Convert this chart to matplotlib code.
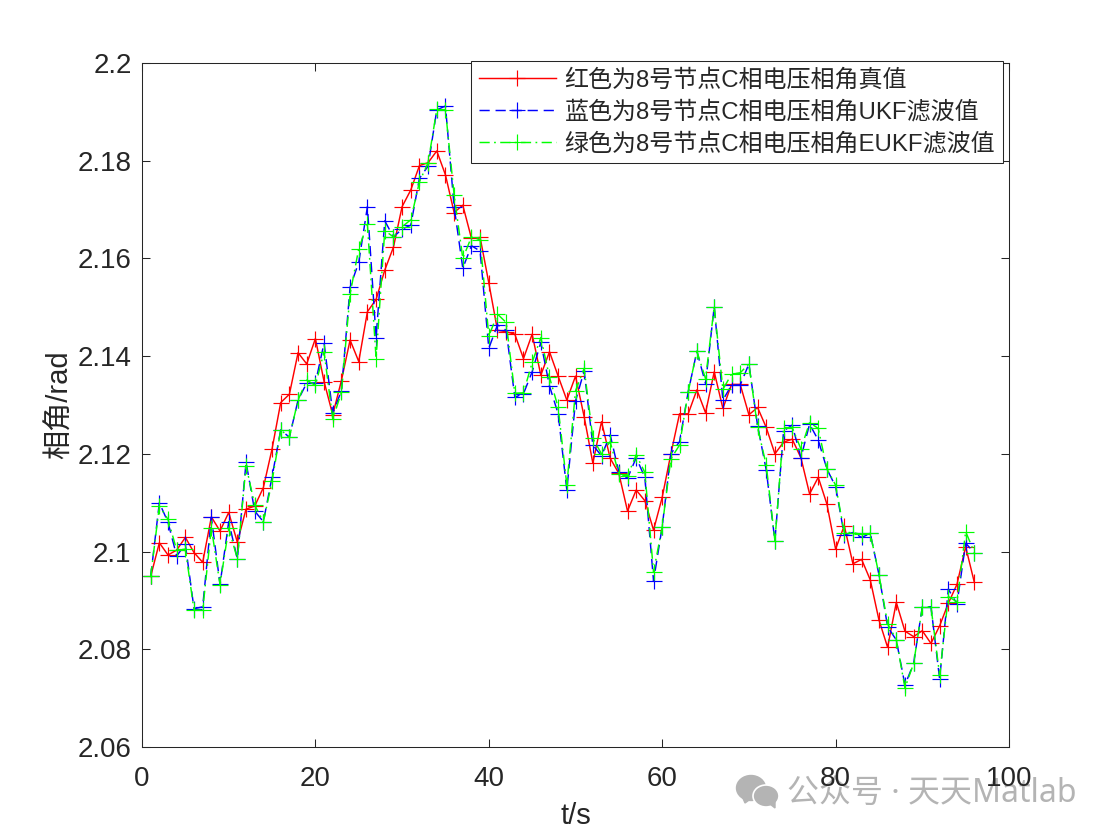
import matplotlib
matplotlib.use("Agg")
import matplotlib.pyplot as plt
from matplotlib.patches import Ellipse, Polygon

plt.rcParams['font.family'] = ['Liberation Sans', 'Noto Sans CJK SC']

time_s = list(range(1, 97))
true_angle = [
    2.0949, 2.1018, 2.0993, 2.1003, 2.1029, 2.0998, 2.0978, 2.1071, 2.1042, 2.1080,
    2.1019, 2.1087, 2.1093, 2.1131, 2.1210, 2.1305, 2.1322, 2.1407, 2.1384, 2.1436,
    2.1348, 2.1280, 2.1350, 2.1433, 2.1389, 2.1491, 2.1516, 2.1576, 2.1623, 2.1706,
    2.1740, 2.1790, 2.1796, 2.1820, 2.1771, 2.1694, 2.1709, 2.1641, 2.1643, 2.1550,
    2.1453, 2.1450, 2.1445, 2.1395, 2.1445, 2.1361, 2.1409, 2.1359, 2.1310, 2.1359,
    2.1276, 2.1181, 2.1266, 2.1191, 2.1160, 2.1083, 2.1126, 2.1104, 2.1044, 2.1111,
    2.1200, 2.1282, 2.1282, 2.1331, 2.1284, 2.1368, 2.1293, 2.1342, 2.1342, 2.1280,
    2.1295, 2.1254, 2.1200, 2.1224, 2.1230, 2.1192, 2.1118, 2.1152, 2.1097, 2.1005,
    2.1053, 2.0975, 2.0984, 2.0942, 2.0860, 2.0804, 2.0896, 2.0837, 2.0826, 2.0838,
    2.0812, 2.0848, 2.0894, 2.0933, 2.1010, 2.0937,
]
ukf_angle = [
    2.0949, 2.1100, 2.1060, 2.0991, 2.1015, 2.0883, 2.0887, 2.1070, 2.0933, 2.1061,
    2.0985, 2.1183, 2.1083, 2.1061, 2.1153, 2.1249, 2.1234, 2.1310, 2.1345, 2.1345,
    2.1427, 2.1283, 2.1329, 2.1541, 2.1592, 2.1706, 2.1438, 2.1677, 2.1644, 2.1660,
    2.1668, 2.1764, 2.1789, 2.1904, 2.1912, 2.1706, 2.1580, 2.1626, 2.1615, 2.1416,
    2.1464, 2.1453, 2.1316, 2.1323, 2.1368, 2.1428, 2.1339, 2.1282, 2.1126, 2.1308,
    2.1370, 2.1218, 2.1196, 2.1239, 2.1163, 2.1150, 2.1192, 2.1152, 2.0940, 2.1051,
    2.1200, 2.1225, 2.1327, 2.1410, 2.1344, 2.1501, 2.1310, 2.1341, 2.1341, 2.1384,
    2.1258, 2.1167, 2.1022, 2.1247, 2.1259, 2.1192, 2.1261, 2.1228, 2.1169, 2.1133,
    2.1034, 2.1039, 2.1029, 2.1037, 2.0953, 2.0846, 2.0819, 2.0727, 2.0771, 2.0887,
    2.0887, 2.0739, 2.0923, 2.0893, 2.1017, 2.0998,
]
eukf_angle = [
    2.0949, 2.1093, 2.1066, 2.1003, 2.1005, 2.0880, 2.0880, 2.1049, 2.0932, 2.1048,
    2.0985, 2.1176, 2.1095, 2.1061, 2.1144, 2.1249, 2.1234, 2.1310, 2.1351, 2.1340,
    2.1409, 2.1271, 2.1326, 2.1527, 2.1620, 2.1670, 2.1395, 2.1657, 2.1644, 2.1665,
    2.1679, 2.1757, 2.1796, 2.1905, 2.1904, 2.1730, 2.1600, 2.1644, 2.1638, 2.1441,
    2.1486, 2.1469, 2.1324, 2.1325, 2.1387, 2.1438, 2.1357, 2.1295, 2.1136, 2.1329,
    2.1375, 2.1232, 2.1200, 2.1225, 2.1158, 2.1155, 2.1198, 2.1162, 2.0958, 2.1051,
    2.1190, 2.1218, 2.1327, 2.1410, 2.1354, 2.1501, 2.1332, 2.1363, 2.1366, 2.1384,
    2.1254, 2.1177, 2.1022, 2.1252, 2.1254, 2.1210, 2.1264, 2.1252, 2.1169, 2.1136,
    2.1039, 2.1039, 2.1035, 2.1037, 2.0953, 2.0852, 2.0820, 2.0721, 2.0771, 2.0886,
    2.0887, 2.0747, 2.0908, 2.0897, 2.1041, 2.0998,
]
x_ticks = [0, 20, 40, 60, 80, 100]
y_ticks = [2.06, 2.08, 2.10, 2.12, 2.14, 2.16, 2.18, 2.20]
y_tick_labels = ['2.06', '2.08', '2.1', '2.12', '2.14', '2.16', '2.18', '2.2']
legend_labels = ['红色为8号节点C相电压相角真值',
                 '蓝色为8号节点C相电压相角UKF滤波值',
                 '绿色为8号节点C相电压相角EUKF滤波值']

W, H = 1111, 836
fig = plt.figure(figsize=(W / 100, H / 100), dpi=100, facecolor='white')
ax = fig.add_axes([142 / W, 1 - 747 / H, (1009 - 142) / W, (747 - 63) / H])

dark = '#262626'
style = dict(marker='+', markersize=11.5, markeredgewidth=0.85, linewidth=1.05)
ax.plot(time_s, true_angle, color='#ff0000', linestyle='-', label=legend_labels[0], **style)
ax.plot(time_s, ukf_angle, color='#0000ff', linestyle=(0, (7, 4)), label=legend_labels[1], **style)
ax.plot(time_s, eukf_angle, color='#00ff00', linestyle=(0, (7, 3, 1.2, 3)), label=legend_labels[2], **style)

ax.set_xlim(0, 100)
ax.set_ylim(2.06, 2.2)
ax.set_xticks(x_ticks)
ax.set_yticks(y_ticks)
ax.set_yticklabels(y_tick_labels)
ax.tick_params(axis='both', direction='in', top=True, right=True, length=6,
               width=0.75, color=dark, labelcolor=dark, labelsize=20)
ax.tick_params(axis='x', pad=14)
ax.tick_params(axis='y', pad=7.5)
for s in ax.spines.values():
    s.set_color(dark)
    s.set_linewidth(0.75)
ax.set_xlabel('t/s', fontsize=21, color=dark, labelpad=7)
ax.set_ylabel('相角/rad', fontsize=21, color=dark, labelpad=3)

leg = ax.legend(loc='upper right', bbox_to_anchor=(1003 / W, 1 - 61 / H),
                bbox_transform=fig.transFigure, borderaxespad=0, fontsize=17.3,
                fancybox=False, framealpha=1, edgecolor=dark, handlelength=3.2,
                handletextpad=0.37, borderpad=0.33, labelspacing=0.38, numpoints=1)
leg.get_frame().set_linewidth(0.75)
leg.set_zorder(5)
for t in leg.get_texts():
    t.set_color(dark)

# Watermark in the lower-right corner, beneath the tick labels
wm = '#b4b4b4'
fig.text(787 / W, 1 - 793 / H, '公众号 · 天天Matlab', fontsize=23, color=wm,
         va='center', ha='left', family=['Noto Sans', 'Noto Sans CJK SC'], zorder=-1)
icon = [Ellipse((751 / W, 1 - 788 / H), 29 / W, 25 / H, color=wm, transform=fig.transFigure, zorder=-1),
        Polygon([(742 / W, 1 - 796 / H), (745 / W, 1 - 803 / H), (752 / W, 1 - 798 / H)], color=wm,
                transform=fig.transFigure, zorder=-1),
        Ellipse((766 / W, 1 - 796 / H), 26 / W, 22 / H, color=wm, ec='white', lw=1.2,
                transform=fig.transFigure, zorder=-1),
        Polygon([(770 / W, 1 - 804 / H), (775 / W, 1 - 808 / H), (775 / W, 1 - 800 / H)], color=wm,
                transform=fig.transFigure, zorder=-1)]
for p in icon:
    fig.add_artist(p)

fig.savefig('out.png', dpi=100)
